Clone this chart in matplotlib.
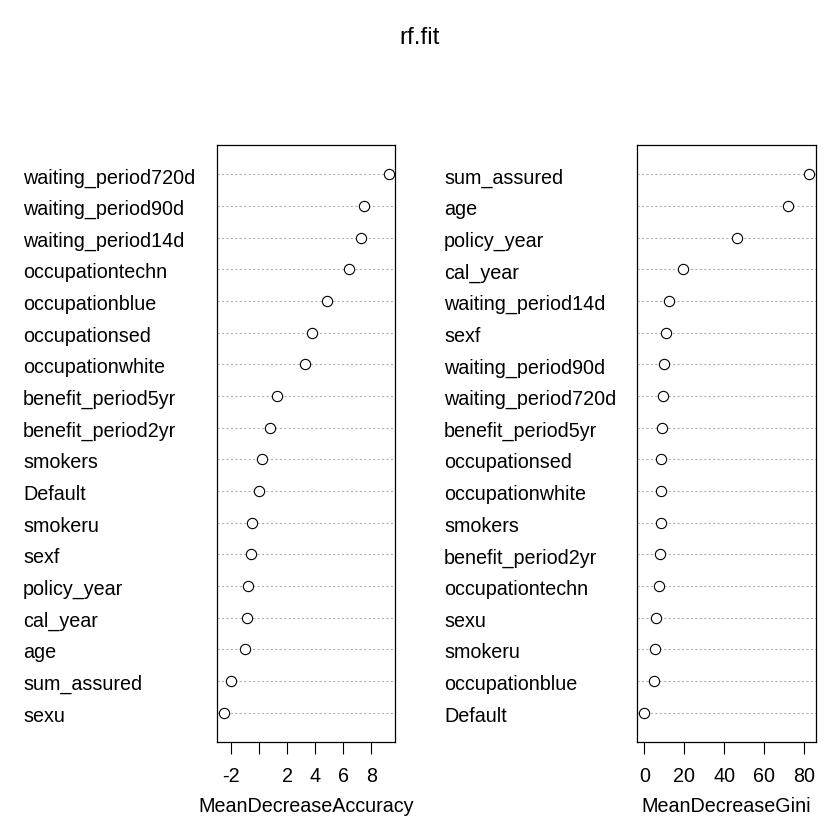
import numpy as np
import matplotlib
matplotlib.use('Agg')
import matplotlib.pyplot as plt
import matplotlib.transforms as mtransforms

plt.rcParams['font.family'] = ['Liberation Sans', 'DejaVu Sans']

title = 'rf.fit'

# left panel, top to bottom
acc_names = ['waiting_period720d', 'waiting_period90d', 'waiting_period14d',
             'occupationtechn', 'occupationblue', 'occupationsed',
             'occupationwhite', 'benefit_period5yr', 'benefit_period2yr',
             'smokers', 'Default', 'smokeru', 'sexf', 'policy_year',
             'cal_year', 'age', 'sum_assured', 'sexu']
acc_vals = [9.24, 7.5, 7.24, 6.39, 4.86, 3.76, 3.24, 1.24, 0.79,
            0.21, 0.0, -0.5, -0.57, -0.83, -0.9, -1.0, -2.0, -2.52]
acc_ticks = [-2, 0, 2, 4, 6, 8]
acc_ticklabels = ['-2', '', '2', '4', '6', '8']

# right panel, top to bottom
gini_names = ['sum_assured', 'age', 'policy_year', 'cal_year',
              'waiting_period14d', 'sexf', 'waiting_period90d',
              'waiting_period720d', 'benefit_period5yr', 'occupationsed',
              'occupationwhite', 'smokers', 'benefit_period2yr',
              'occupationtechn', 'sexu', 'smokeru', 'occupationblue', 'Default']
gini_vals = [82.3, 72.0, 46.3, 19.5, 12.5, 11.0, 9.8, 9.5, 9.0, 8.5,
             8.5, 8.5, 8.0, 7.2, 6.0, 5.5, 5.0, 0.0]
gini_ticks = [0, 20, 40, 60, 80]
gini_ticklabels = ['0', '20', '40', '60', '80']

W = H = 840
FS = 14.2

fig = plt.figure(figsize=(8.4, 8.4), dpi=100)


def panel(rect, names, vals, ticks, ticklabels, xlabel, label_x, xlim):
    ax = fig.add_axes(rect)
    n = len(names)
    y = np.arange(n, 0, -1)
    for yy in y:
        ax.axhline(yy, color='#b4b4b4', lw=0.8, dashes=(2, 2), zorder=1)
    ax.plot(vals, y, 'o', ms=7.4, mfc='white', mec='black', mew=0.8,
            ls='none', zorder=3)
    ax.set_ylim(0.06, n + 0.94)
    ax.set_xlim(*xlim)
    ax.set_yticks([])
    ax.set_xticks(ticks)
    ax.set_xticklabels(ticklabels, fontsize=FS)
    ax.tick_params(axis='x', length=8.6, width=0.8, pad=9, color='black')
    for s in ax.spines.values():
        s.set_linewidth(0.9)
        s.set_color('black')
    # row labels sit in the figure margin, baseline a bit under the row line
    tr = mtransforms.blended_transform_factory(fig.transFigure, ax.transData)
    tr = tr + mtransforms.ScaledTranslation(0, -9 / 100, fig.dpi_scale_trans)
    for name, yy in zip(names, y):
        ax.text(label_x / W, yy, name, transform=tr, ha='left', va='baseline',
                fontsize=FS, clip_on=False)
    cx = rect[0] + rect[2] / 2
    fig.text(cx, 1 - 812 / H, xlabel, ha='center', va='baseline', fontsize=FS)
    return ax


bottom = 1 - 742.3 / H
height = (742.3 - 144.7) / H
panel([217.3 / W, bottom, (394.5 - 217.3) / W, height],
      acc_names, acc_vals, acc_ticks, acc_ticklabels,
      'MeanDecreaseAccuracy', 23, (-2.99, 9.64))
panel([637.3 / W, bottom, (815.6 - 637.3) / W, height],
      gini_names, gini_vals, gini_ticks, gini_ticklabels,
      'MeanDecreaseGini', 444, (-3.5, 85.65))

fig.text(0.5, 1 - 44 / H, title, ha='center', va='baseline', fontsize=17.5)

fig.savefig('out.png', dpi=100, facecolor='white')
